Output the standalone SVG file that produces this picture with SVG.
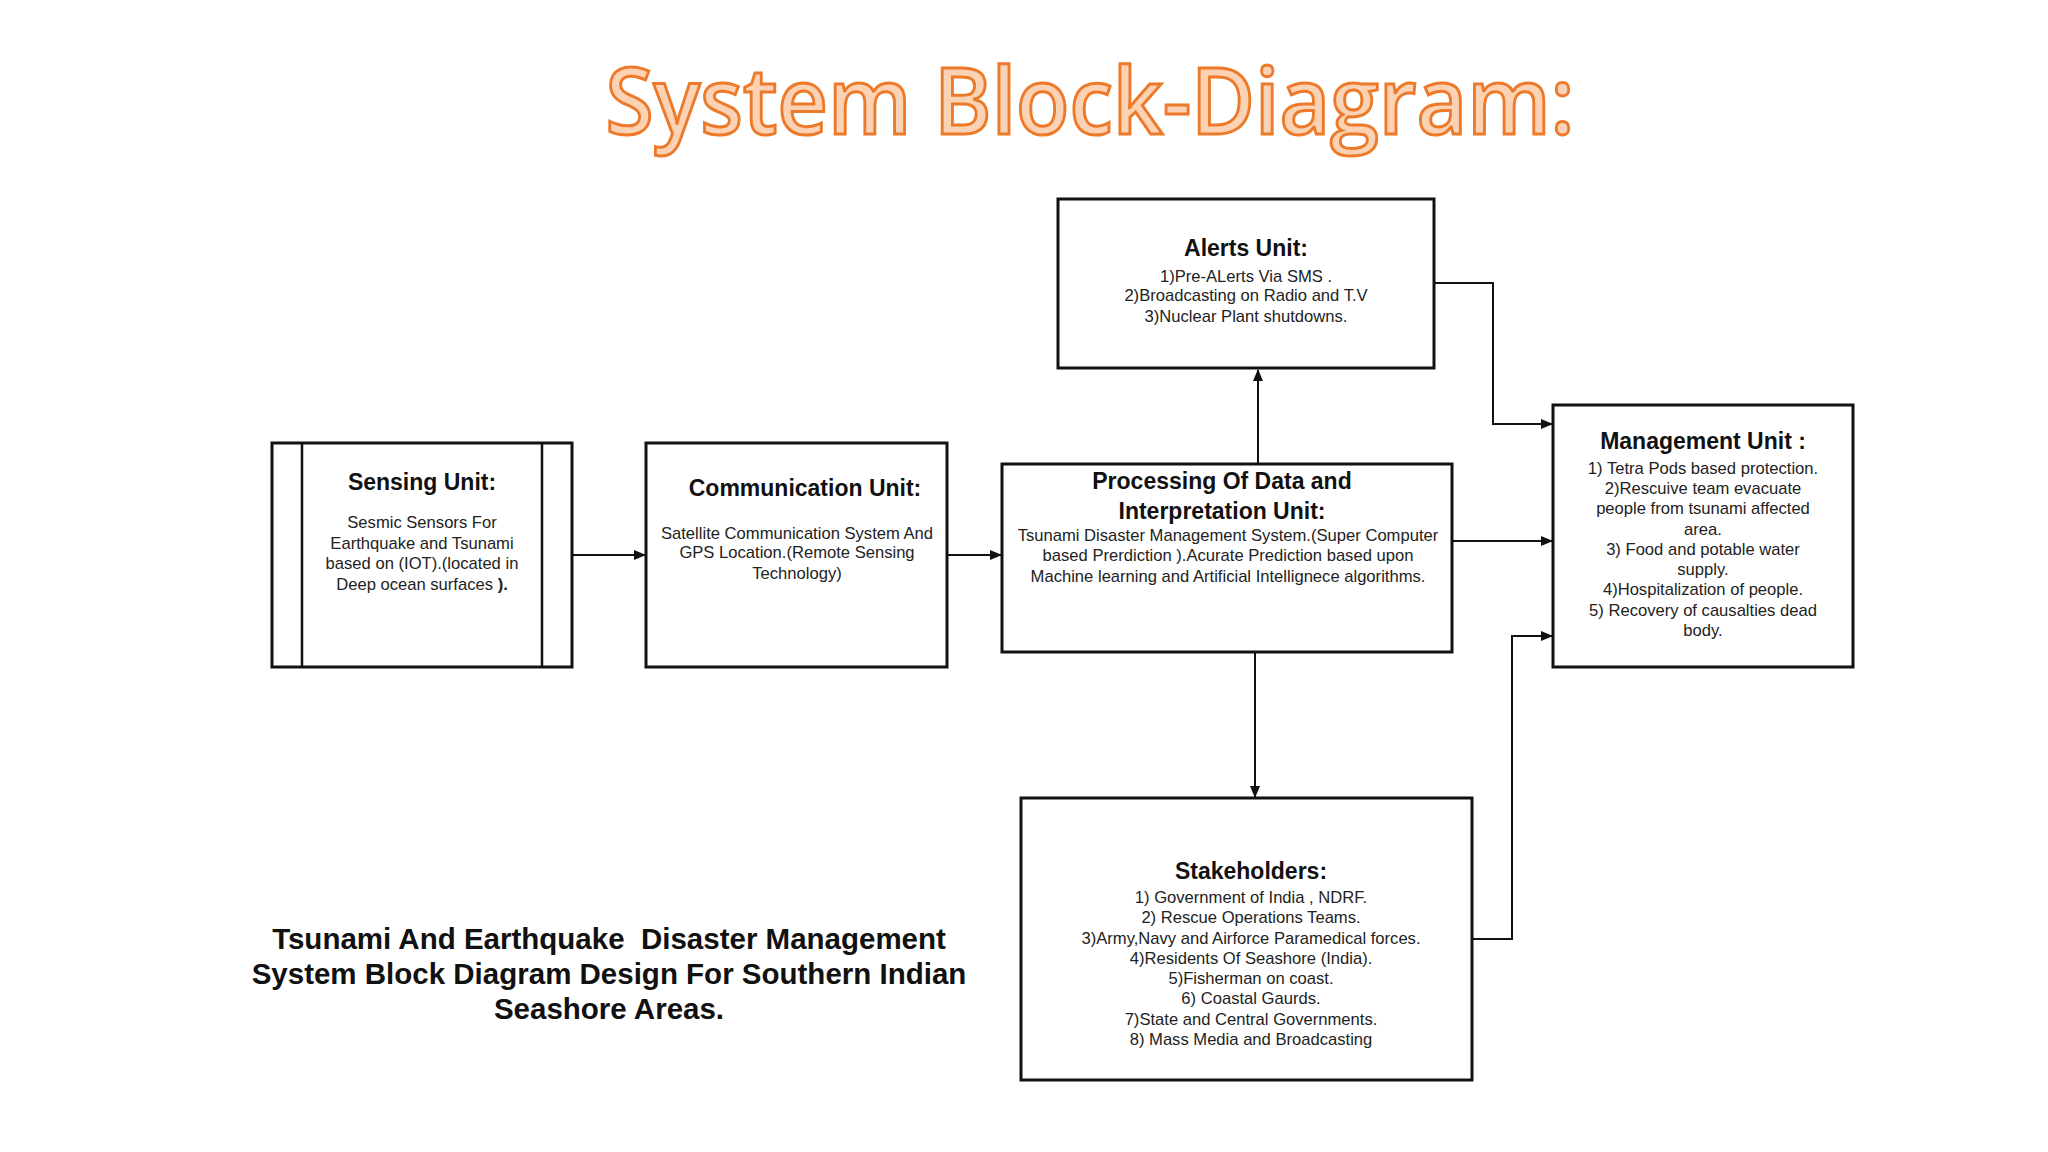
<svg xmlns="http://www.w3.org/2000/svg" width="2048" height="1152" viewBox="0 0 2048 1152">
<style>
.box{fill:#fff;stroke:#111;stroke-width:3}
.t{font-family:"Liberation Sans",Arial,sans-serif;font-weight:bold;font-size:23px;fill:#111;text-anchor:middle;dominant-baseline:central}
.cap{font-size:29.5px}
.b{font-family:"Liberation Sans",Arial,sans-serif;font-size:16.6px;fill:#222;text-anchor:middle;dominant-baseline:central}
.c{fill:none;stroke:#111;stroke-width:2}
</style>
<defs><marker id="a" markerWidth="12" markerHeight="10" refX="11" refY="5" orient="auto" markerUnits="userSpaceOnUse"><path d="M0,0 L12,5 L0,10 z" fill="#111"/></marker></defs>
<rect width="2048" height="1152" fill="#fff"/>
<text x="1090" y="98" font-family="Open Sans,Liberation Sans,sans-serif" font-size="92" font-weight="600" fill="#fbd3b4" stroke="#ec7a2a" stroke-width="3" text-anchor="middle" dominant-baseline="central" textLength="969" lengthAdjust="spacingAndGlyphs">System Block-Diagram:</text>
<g id="sensing"><rect class="box" x="272" y="443" width="300" height="224"/><line x1="302" y1="443" x2="302" y2="667" stroke="#111" stroke-width="2.5"/><line x1="542" y1="443" x2="542" y2="667" stroke="#111" stroke-width="2.5"/>
<text class="t" x="422" y="482">Sensing Unit:</text>
<text class="b" x="422" y="522">Sesmic Sensors For</text><text class="b" x="422" y="543">Earthquake and Tsunami</text><text class="b" x="422" y="563">based on (IOT).(located in</text><text class="b" x="422" y="584">Deep ocean surfaces <tspan font-weight="bold">).</tspan></text></g>
<g id="comm"><rect class="box" x="646" y="443" width="301" height="224"/>
<text class="t" x="805" y="488">Communication  Unit:</text>
<text class="b" x="797" y="533">Satellite Communication System  And</text><text class="b" x="797" y="552">GPS Location.(Remote Sensing</text><text class="b" x="797" y="573">Technology)</text></g>
<g id="proc"><rect class="box" x="1002" y="464" width="450" height="188" stroke-width="2"/>
<text class="t" x="1222" y="481">Processing Of Data and</text><text class="t" x="1222" y="511">Interpretation Unit:</text>
<text class="b" x="1228" y="535">Tsunami Disaster Management System.(Super Computer</text><text class="b" x="1228" y="555">based Prerdiction ).Acurate Prediction based upon</text><text class="b" x="1228" y="576">Machine learning and Artificial Intellignece algorithms.</text></g>
<g id="alerts"><rect class="box" x="1058" y="199" width="376" height="169"/>
<text class="t" x="1246" y="248">Alerts Unit:</text>
<text class="b" x="1246" y="276">1)Pre-ALerts Via SMS .</text><text class="b" x="1246" y="295">2)Broadcasting on Radio and T.V</text><text class="b" x="1246" y="316">3)Nuclear Plant shutdowns.</text></g>
<g id="mgmt"><rect class="box" x="1553" y="405" width="300" height="262"/>
<text class="t" x="1703" y="441">Management Unit :</text>
<text class="b" x="1703" y="468">1) Tetra Pods based protection.</text><text class="b" x="1703" y="488">2)Rescuive team evacuate</text><text class="b" x="1703" y="508">people from tsunami affected</text><text class="b" x="1703" y="529">area.</text><text class="b" x="1703" y="549">3) Food and potable water</text><text class="b" x="1703" y="569">supply.</text><text class="b" x="1703" y="589">4)Hospitalization of people.</text><text class="b" x="1703" y="610">5) Recovery of causalties dead</text><text class="b" x="1703" y="630">body.</text></g>
<g id="stake"><rect class="box" x="1021" y="798" width="451" height="282"/>
<text class="t" x="1251" y="871">Stakeholders:</text>
<text class="b" x="1251" y="897">1) Government of India , NDRF.</text><text class="b" x="1251" y="917">2) Rescue Operations Teams.</text><text class="b" x="1251" y="938">3)Army,Navy and Airforce Paramedical forces.</text><text class="b" x="1251" y="958">4)Residents Of Seashore (India).</text><text class="b" x="1251" y="978">5)Fisherman on coast.</text><text class="b" x="1251" y="998">6) Coastal Gaurds.</text><text class="b" x="1251" y="1019">7)State and Central Governments.</text><text class="b" x="1251" y="1039">8) Mass Media and Broadcasting</text></g>
<g id="caption"><text class="t cap" x="609" y="938" xml:space="preserve">Tsunami And Earthquake  Disaster Management</text><text class="t cap" x="609" y="973">System Block Diagram Design For Southern Indian</text><text class="t cap" x="609" y="1008">Seashore Areas.</text></g>
<g id="connectors">
<line class="c" x1="572" y1="555" x2="645" y2="555" marker-end="url(#a)"/>
<line class="c" x1="947" y1="555" x2="1001" y2="555" marker-end="url(#a)"/>
<line class="c" x1="1258" y1="464" x2="1258" y2="370" marker-end="url(#a)"/>
<polyline class="c" points="1434,283 1493,283 1493,424 1552,424" marker-end="url(#a)"/>
<line class="c" x1="1452" y1="541" x2="1552" y2="541" marker-end="url(#a)"/>
<line class="c" x1="1255" y1="652" x2="1255" y2="797" marker-end="url(#a)"/>
<polyline class="c" points="1472,939 1512,939 1512,636 1552,636" marker-end="url(#a)"/>
</g>
</svg>
